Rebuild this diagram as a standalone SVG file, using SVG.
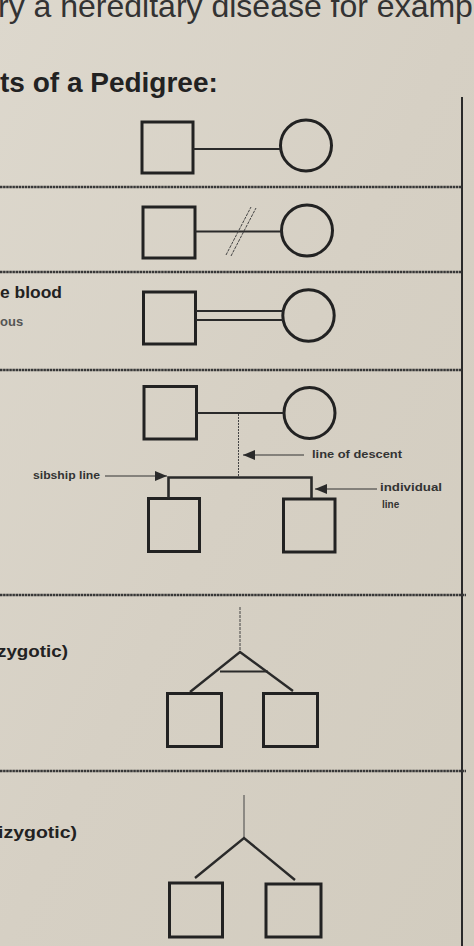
<svg xmlns="http://www.w3.org/2000/svg" width="474" height="946" viewBox="0 0 474 946">
<defs>
<linearGradient id="paper" x1="0" y1="0" x2="1" y2="1">
<stop offset="0" stop-color="#ddd8cd"/>
<stop offset="0.5" stop-color="#d6d0c4"/>
<stop offset="1" stop-color="#d2ccbf"/>
</linearGradient>
<marker id="ah" viewBox="0 0 12 10" refX="12" refY="5" markerWidth="12" markerHeight="10" markerUnits="userSpaceOnUse" orient="auto">
<path d="M0,0 L12,5 L0,10 Z" fill="#2a2a2a"/>
</marker>
</defs>
<style>
.sym{fill:none;stroke:#222;stroke-width:3}
.ln{fill:none;stroke:#2a2a2a;stroke-width:2}
.div{fill:none;stroke:#383838;stroke-width:2.4;stroke-dasharray:2.5 0.6}
.thin{fill:none;stroke:#444;stroke-width:1}
.arr{fill:none;stroke:#333;stroke-width:1.2;marker-end:url(#ah)}
.lbl{font-family:"Liberation Sans",Arial,sans-serif;font-weight:bold;fill:#222}
.small{font-family:"Liberation Sans",Arial,sans-serif;font-weight:bold;font-size:10px;fill:#333}
</style>
<rect x="0" y="0" width="474" height="946" fill="url(#paper)"/>

<g id="header">
<text x="-2" y="17" style="font-family:'Liberation Sans',Arial,sans-serif;font-size:32px;fill:#333">ry a hereditary disease for exampl</text>
<text x="0" y="92" class="lbl" style="font-size:28px">ts of a Pedigree:</text>
</g>

<g id="frame">
<line x1="462" y1="97" x2="462" y2="946" class="ln"/>
<line x1="0" y1="187" x2="462" y2="187" class="div"/>
<line x1="0" y1="272" x2="462" y2="272" class="div"/>
<line x1="0" y1="370" x2="462" y2="370" class="div"/>
<line x1="0" y1="595" x2="466" y2="595" class="div"/>
<line x1="0" y1="771" x2="466" y2="771" class="div"/>
</g>

<g id="labels">
<text x="0" y="298" class="lbl" style="font-size:17px" textLength="62" lengthAdjust="spacingAndGlyphs">e blood</text>
<text x="0" y="326" class="lbl" style="font-size:13px;fill:#555">ous</text>
<text x="-3" y="657" class="lbl" style="font-size:17px" textLength="71" lengthAdjust="spacingAndGlyphs">zygotic)</text>
<text x="-2" y="838" class="lbl" style="font-size:17px" textLength="79" lengthAdjust="spacingAndGlyphs">izygotic)</text>
</g>

<g id="mating">
<rect x="142" y="122" width="51" height="51" class="sym"/>
<circle cx="306" cy="145.5" r="25.5" class="sym"/>
<line x1="193" y1="149" x2="281" y2="149" class="ln"/>
</g>

<g id="divorce">
<rect x="143" y="207" width="52" height="51" class="sym"/>
<circle cx="307" cy="230.5" r="25.5" class="sym"/>
<line x1="195" y1="231.5" x2="282" y2="231.5" class="ln"/>
<line x1="226" y1="255" x2="251" y2="207" class="thin" style="stroke-dasharray:3 1"/>
<line x1="231" y1="256" x2="256" y2="208" class="thin" style="stroke-dasharray:3 1"/>
</g>

<g id="consanguineous">
<rect x="143.5" y="292" width="52" height="52" class="sym"/>
<circle cx="308.5" cy="315.5" r="25.7" class="sym"/>
<line x1="196" y1="311" x2="283" y2="311" class="ln"/>
<line x1="196" y1="320" x2="283" y2="320" class="ln"/>
</g>

<g id="parents">
<rect x="144" y="386.5" width="52.5" height="52.5" class="sym"/>
<circle cx="309.5" cy="413" r="25.5" class="sym"/>
<line x1="197" y1="413" x2="284" y2="413" class="ln"/>
</g>

<g id="child-left">
<rect x="148.5" y="498.5" width="51" height="53" class="sym"/>
</g>
<g id="child-right">
<rect x="283.5" y="499" width="51.5" height="53" class="sym"/>
</g>

<g id="connectors">
<line x1="238.5" y1="414" x2="238.5" y2="477" class="thin" style="stroke-dasharray:2 1"/>
<polyline points="168.5,498 168.5,477.5 311.5,477.5 311.5,499" fill="none" stroke="#2a2a2a" stroke-width="2.6"/>
<line x1="304" y1="455" x2="243" y2="455" class="arr"/>
<line x1="105" y1="476" x2="167" y2="476" class="arr"/>
<line x1="377" y1="489" x2="315" y2="489" class="arr"/>
</g>

<g id="annotations">
<text x="312" y="458" class="small" textLength="90" lengthAdjust="spacingAndGlyphs">line of descent</text>
<text x="33" y="479" class="small" textLength="67" lengthAdjust="spacingAndGlyphs">sibship line</text>
<text x="380" y="491" class="small" textLength="62" lengthAdjust="spacingAndGlyphs">individual</text>
<text x="382" y="508" class="small">line</text>
</g>

<g id="monozygotic">
<polyline points="240,607 240,652" class="thin" style="stroke-dasharray:3 1"/>
<polyline points="190,692 240,652 293,691" class="ln" style="stroke-width:2.4"/>
<line x1="220" y1="671.5" x2="268" y2="671.5" class="ln"/>
<rect x="167.5" y="693.5" width="54" height="53" class="sym"/>
<rect x="263.5" y="693.5" width="54" height="53" class="sym"/>
</g>

<g id="dizygotic">
<line x1="244" y1="795" x2="244" y2="838" class="thin"/>
<polyline points="195,878 244,838 295,880" class="ln" style="stroke-width:2.4"/>
<rect x="169.5" y="883" width="53" height="54" class="sym"/>
<rect x="266" y="884" width="55" height="53" class="sym"/>
</g>
</svg>
